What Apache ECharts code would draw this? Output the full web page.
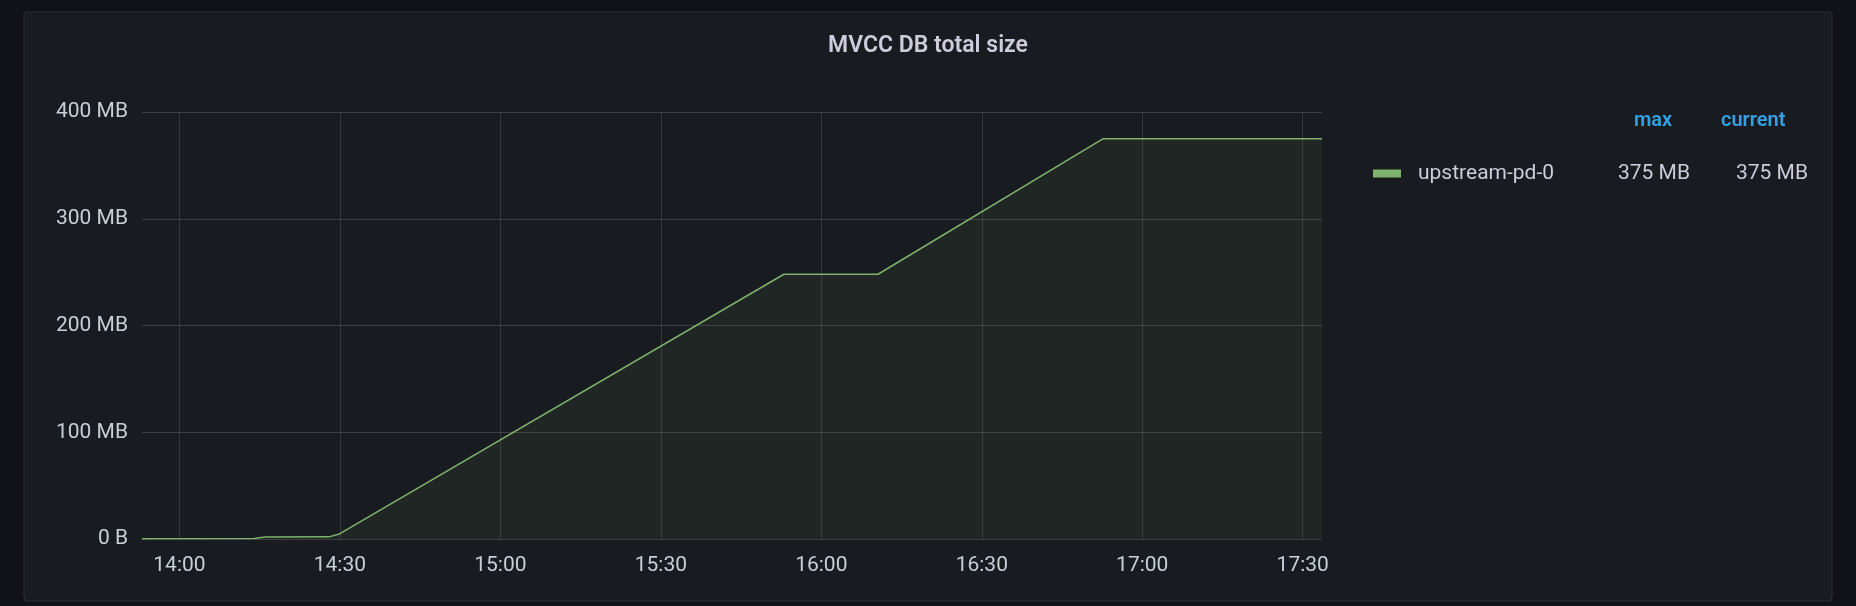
<!DOCTYPE html>
<html>
<head>
<meta charset="utf-8">
<script src="https://cdn.jsdelivr.net/npm/echarts@6/dist/echarts.min.js"></script>
<style>
  html, body { margin: 0; padding: 0; background: #111217; }
  #chart { width: 1856px; height: 606px; }
</style>
</head>
<body>
<div id="chart"></div>
<script>
// minutes since midnight and MB values
const minutes = [833, 854, 856, 868, 870, 953, 970.6, 1012.7, 1053.6];
const sizesMB = [0.3, 0.5, 1.8, 2, 5, 248, 248, 375, 375];
const seriesName = 'upstream-pd-0';
const xTicks = [840, 870, 900, 930, 960, 990, 1020, 1050];
const yTicks = [0, 100, 200, 300, 400];

const points = minutes.map((m, i) => [m, sizesMB[i]]);
const maxVal = Math.max(...sizesMB);
const curVal = sizesMB[sizesMB.length - 1];
const pad = n => String(n).padStart(2, '0');

const chart = echarts.init(document.getElementById('chart'));
chart.setOption({
  backgroundColor: '#111217',
  textStyle: { fontFamily: 'Roboto, Inter, sans-serif' },
  graphic: [
    { type: 'rect', shape: { x: 24, y: 12, width: 1808, height: 589, r: 3 },
      style: { fill: '#181b1f', stroke: '#2a2d33', lineWidth: 1 }, z: -10 },
    { type: 'text', left: 1634, top: 111, style: { text: 'max', fill: '#33a2e5', font: '600 20px Roboto' } },
    { type: 'text', left: 1721, top: 111, style: { text: 'current', fill: '#33a2e5', font: '600 20px Roboto' } }
  ],
  title: {
    text: 'MVCC DB total size', left: 'center', top: 30,
    textStyle: { color: '#ccccdc', fontSize: 23, fontWeight: 600 }
  },
  legend: {
    left: 1368, top: 158, orient: 'vertical',
    icon: 'rect', itemWidth: 28, itemHeight: 8,
    formatter: name => `{n|${name}}{v|${maxVal} MB}{v|${curVal} MB}`,
    textStyle: {
      color: '#ccccdc', fontSize: 21,
      rich: {
        n: { width: 200, fontSize: 21, color: '#ccccdc', padding: [0, 0, 0, 12] },
        v: { width: 118, fontSize: 21, color: '#ccccdc' }
      }
    }
  },
  grid: { left: 142, right: 534, top: 112, bottom: 67 },
  xAxis: {
    type: 'value',
    min: minutes[0], max: minutes[minutes.length - 1],
    axisLine: { show: false },
    axisTick: { show: false, customValues: xTicks },
    axisLabel: {
      color: '#c7d0d9', fontSize: 21, margin: 16, customValues: xTicks,
      formatter: v => pad(Math.floor(v / 60)) + ':' + pad(v % 60)
    },
    splitLine: { show: true, lineStyle: { color: 'rgba(204,204,220,0.16)' } }
  },
  yAxis: {
    type: 'value', min: yTicks[0], max: yTicks[yTicks.length - 1], interval: 100,
    axisLine: { show: false }, axisTick: { show: false },
    axisLabel: { color: '#c7d0d9', fontSize: 21, margin: 14, formatter: v => v === 0 ? '0 B' : v + ' MB' },
    splitLine: { lineStyle: { color: 'rgba(204,204,220,0.2)' } }
  },
  series: [{
    name: seriesName, type: 'line', data: points,
    showSymbol: false, color: '#7eb26d',
    lineStyle: { width: 1.5 },
    areaStyle: { color: 'rgba(126,178,109,0.1)' }
  }]
});
</script>
</body>
</html>
